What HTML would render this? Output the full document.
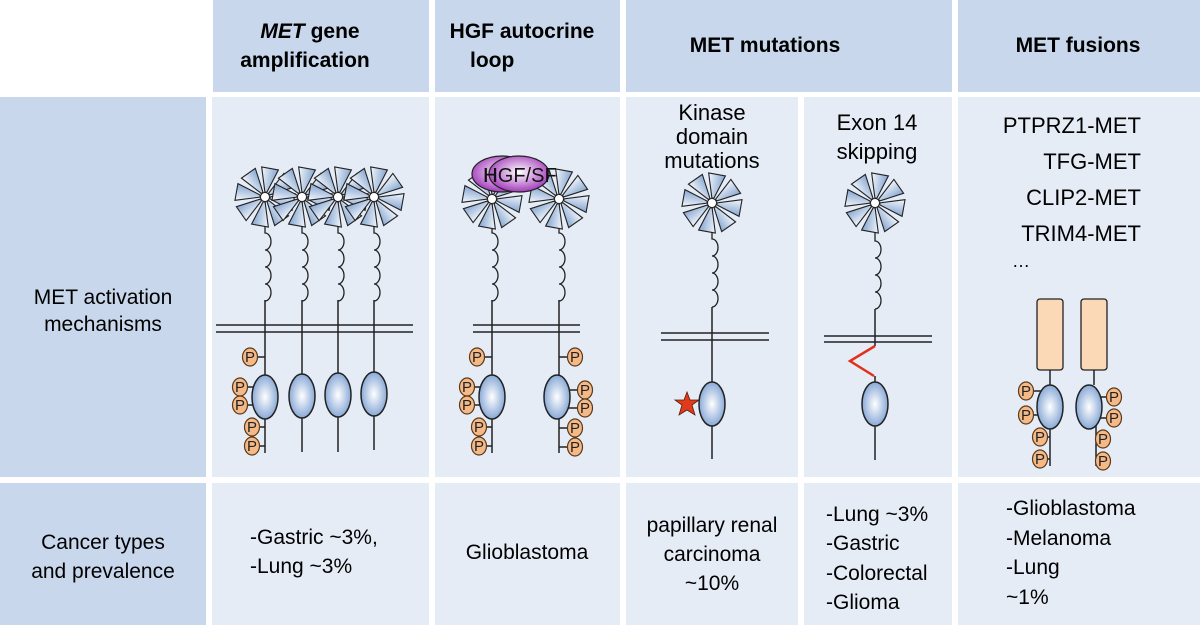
<!DOCTYPE html>
<html><head><meta charset="utf-8"><style>
html,body{margin:0;padding:0;background:#fff}
body{width:1200px;height:627px;overflow:hidden;position:relative;font-family:"Liberation Sans",sans-serif;color:#111}
.c{position:absolute}
.h{background:#c8d7eb}
.b{background:#e5ecf6}
</style></head><body>
<div class="c h" style="left:213px;top:0;width:216px;height:92px"></div>
<div class="c h" style="left:435px;top:0;width:185px;height:92px"></div>
<div class="c h" style="left:626px;top:0;width:326px;height:92px"></div>
<div class="c h" style="left:958px;top:0;width:242px;height:92px"></div>
<div class="c h" style="left:0;top:97px;width:206px;height:380px"></div>
<div class="c h" style="left:0;top:483px;width:206px;height:142px"></div>
<div class="c b" style="left:212px;top:97px;width:217px;height:380px"></div>
<div class="c b" style="left:435px;top:97px;width:185px;height:380px"></div>
<div class="c b" style="left:626px;top:97px;width:172px;height:380px"></div>
<div class="c b" style="left:804px;top:97px;width:148px;height:380px"></div>
<div class="c b" style="left:958px;top:97px;width:242px;height:380px"></div>
<div class="c b" style="left:212px;top:483px;width:217px;height:142px"></div>
<div class="c b" style="left:435px;top:483px;width:185px;height:142px"></div>
<div class="c b" style="left:626px;top:483px;width:172px;height:142px"></div>
<div class="c b" style="left:804px;top:483px;width:148px;height:142px"></div>
<div class="c b" style="left:958px;top:483px;width:242px;height:142px"></div>

<svg class="c" style="left:0;top:0" width="1200" height="627" viewBox="0 0 1200 627" font-family="Liberation Sans, sans-serif">
<defs>
<linearGradient id="bg" x1="0" y1="0" x2="1" y2="0"><stop offset="0" stop-color="#f4f8fd"/><stop offset="1" stop-color="#86a6d0"/></linearGradient>
<radialGradient id="eg" cx="0.5" cy="0.5" r="0.55"><stop offset="0" stop-color="#ffffff"/><stop offset="1" stop-color="#7ea1d3"/></radialGradient>
<radialGradient id="pg" cx="0.5" cy="0.45" r="0.6"><stop offset="0" stop-color="#fff"/><stop offset="1" stop-color="#9b2bb5"/></radialGradient>
<g id="bl"><polygon points="-1,-5 1,-5 8.5,-29 -8.5,-29" fill="url(#bg)" stroke="#222" stroke-width="1.1"/></g>
<g id="pw">
<use href="#bl" transform="rotate(10)"/><use href="#bl" transform="rotate(55)"/><use href="#bl" transform="rotate(100)"/><use href="#bl" transform="rotate(145)"/><use href="#bl" transform="rotate(190)"/><use href="#bl" transform="rotate(235)"/><use href="#bl" transform="rotate(280)"/><use href="#bl" transform="rotate(325)"/>
<circle r="4.5" fill="#fff" stroke="#222" stroke-width="1"/>
</g>
<path id="coil" d="M0,0 l0,8 a6,8.5 0 1 1 0,17 a6,8.5 0 1 1 0,17 a6,8.5 0 1 1 0,17 a6,8.5 0 1 1 0,17" fill="none" stroke="#222" stroke-width="1.3"/>
<ellipse id="kd" rx="13" ry="22" fill="url(#eg)" stroke="#222" stroke-width="1.5"/>
</defs>

<g font-weight="bold" font-size="21" text-anchor="middle">
<text x="310" y="38"><tspan font-style="italic">MET</tspan> gene</text>
<text x="305" y="67">amplification</text>
<text x="522" y="38">HGF autocrine</text>
<text x="470" y="67" text-anchor="start">loop</text>
<text x="765" y="52">MET mutations</text>
<text x="1078" y="52">MET fusions</text>
</g>
<g font-size="21" text-anchor="middle">
<text x="103" y="304">MET activation</text>
<text x="103" y="331">mechanisms</text>
<text x="103" y="549">Cancer types</text>
<text x="103" y="578">and prevalence</text>
<text x="527" y="559">Glioblastoma</text>
<text x="712" y="532">papillary renal</text>
<text x="712" y="561">carcinoma</text>
<text x="712" y="590">~10%</text>
<text x="712" y="120" font-size="22">Kinase</text>
<text x="712" y="144" font-size="22">domain</text>
<text x="712" y="168" font-size="22">mutations</text>
<text x="877" y="130" font-size="22">Exon 14</text>
<text x="877" y="159" font-size="22">skipping</text>
</g>
<g font-size="21">
<text x="250" y="544">-Gastric ~3%,</text>
<text x="250" y="573">-Lung ~3%</text>
<text x="826" y="521">-Lung ~3%</text>
<text x="826" y="550">-Gastric</text>
<text x="826" y="580">-Colorectal</text>
<text x="826" y="609">-Glioma</text>
<text x="1006" y="515">-Glioblastoma</text>
<text x="1006" y="545">-Melanoma</text>
<text x="1006" y="574">-Lung</text>
<text x="1006" y="604">~1%</text>
</g>
<g font-size="22" text-anchor="end">
<text x="1141" y="133">PTPRZ1-MET</text>
<text x="1141" y="169">TFG-MET</text>
<text x="1141" y="205">CLIP2-MET</text>
<text x="1141" y="241">TRIM4-MET</text>
</g>
<text x="1012" y="267" font-size="18">…</text>

<g stroke="#222" stroke-width="1.5" fill="none">
<line x1="216" y1="325" x2="413" y2="325"/><line x1="216" y1="332" x2="413" y2="332"/>
<line x1="265" y1="300" x2="265" y2="453"/><line x1="302" y1="300" x2="302" y2="452"/><line x1="338" y1="300" x2="338" y2="452"/><line x1="374" y1="300" x2="374" y2="450"/>
<line x1="265" y1="197" x2="265" y2="227"/><line x1="302" y1="197" x2="302" y2="227"/><line x1="338" y1="197" x2="338" y2="227"/><line x1="374" y1="197" x2="374" y2="227"/>
<line x1="473" y1="325" x2="580" y2="325"/><line x1="473" y1="332" x2="580" y2="332"/>
<line x1="492" y1="300" x2="492" y2="453"/><line x1="559" y1="300" x2="559" y2="453"/>
<line x1="492" y1="197" x2="492" y2="227"/><line x1="559" y1="197" x2="559" y2="227"/>
<line x1="661" y1="333" x2="769" y2="333"/><line x1="661" y1="340" x2="769" y2="340"/>
<line x1="712" y1="203" x2="712" y2="231"/><line x1="712" y1="307" x2="712" y2="459"/>
<line x1="824" y1="336" x2="932" y2="336"/><line x1="824" y1="342" x2="932" y2="342"/>
<line x1="875" y1="203" x2="875" y2="233"/><line x1="875" y1="309" x2="875" y2="346"/><line x1="875" y1="376" x2="875" y2="460"/>
<line x1="1050" y1="370" x2="1050" y2="466"/><line x1="1094" y1="370" x2="1094" y2="385"/><line x1="1096" y1="400" x2="1096" y2="466"/>
<path d="M257,357h8M248,387h17M248,405h17M259,427h6M259,446h6"/>
<path d="M484,357h8M475,387h17M475,405h17M486,427h6M486,446h6"/>
<path d="M559,357h8M559,390h18M559,408h18M559,428h8M559,447h8"/>
<path d="M1033,391h17M1033,415h17M1045,437h5M1045,459h5M1096,397h10M1096,418h10M1096,439h2M1096,461h2"/>
</g>
<g>
<use href="#coil" x="265" y="225"/><use href="#coil" x="302" y="225"/><use href="#coil" x="338" y="225"/><use href="#coil" x="374" y="225"/>
<use href="#coil" x="492" y="225"/><use href="#coil" x="559" y="225"/>
<use href="#coil" x="712" y="231"/><use href="#coil" x="875" y="233"/>
</g>
<use href="#pw" x="265" y="197"/><use href="#pw" x="302" y="197"/><use href="#pw" x="338" y="197"/><use href="#pw" x="374" y="197"/>
<use href="#pw" x="492" y="199"/><use href="#pw" x="559" y="199"/>
<use href="#pw" x="712" y="203"/><use href="#pw" x="875" y="203"/>
<ellipse cx="502" cy="174" rx="30" ry="18" fill="url(#pg)" stroke="#222" stroke-width="1.2"/>
<ellipse cx="519" cy="174" rx="30" ry="18" fill="url(#pg)" stroke="#222" stroke-width="1.2"/>
<text x="483" y="182" font-size="20" fill="#111">H</text>
<text x="520" y="182" font-size="20" text-anchor="middle" fill="#111">HGF/SF</text>
<use href="#kd" x="265" y="397"/><use href="#kd" x="302" y="396"/><use href="#kd" x="338" y="395"/><use href="#kd" x="374" y="394"/>
<use href="#kd" x="492" y="397"/><use href="#kd" x="557" y="397"/>
<use href="#kd" x="712" y="404"/><use href="#kd" x="875" y="404"/>
<use href="#kd" x="1050" y="407"/><use href="#kd" x="1089" y="407"/>
<polygon points="687,392 690,400 699,400 692,405 695,415 687,410 679,415 682,405 675,400 684,400" fill="#e03c1c" stroke="#5a1a0a" stroke-width="0.8"/>
<polyline points="875,346 850,361 874,376" fill="none" stroke="#e3301c" stroke-width="2.5"/>
<rect x="1037" y="299" width="26" height="71" rx="3" fill="#fbd9b6" stroke="#222" stroke-width="1.3"/>
<rect x="1081" y="299" width="26" height="71" rx="3" fill="#fbd9b6" stroke="#222" stroke-width="1.3"/>
<g fill="#f5b987" stroke="#5a3a1a" stroke-width="1.2">
<ellipse cx="250" cy="357" rx="7.5" ry="9"/><ellipse cx="240" cy="387" rx="7.5" ry="9"/><ellipse cx="240" cy="405" rx="7.5" ry="9"/><ellipse cx="252" cy="427" rx="7.5" ry="9"/><ellipse cx="252" cy="446" rx="7.5" ry="9"/>
<ellipse cx="477" cy="357" rx="7.5" ry="9"/><ellipse cx="467" cy="387" rx="7.5" ry="9"/><ellipse cx="467" cy="405" rx="7.5" ry="9"/><ellipse cx="479" cy="427" rx="7.5" ry="9"/><ellipse cx="479" cy="446" rx="7.5" ry="9"/>
<ellipse cx="575" cy="357" rx="7.5" ry="9"/><ellipse cx="585" cy="390" rx="7.5" ry="9"/><ellipse cx="585" cy="408" rx="7.5" ry="9"/><ellipse cx="575" cy="428" rx="7.5" ry="9"/><ellipse cx="575" cy="447" rx="7.5" ry="9"/>
<ellipse cx="1026" cy="391" rx="7.5" ry="9"/><ellipse cx="1026" cy="415" rx="7.5" ry="9"/><ellipse cx="1040" cy="437" rx="7.5" ry="9"/><ellipse cx="1040" cy="459" rx="7.5" ry="9"/>
<ellipse cx="1114" cy="397" rx="7.5" ry="9"/><ellipse cx="1114" cy="418" rx="7.5" ry="9"/><ellipse cx="1103" cy="439" rx="7.5" ry="9"/><ellipse cx="1103" cy="461" rx="7.5" ry="9"/>
</g>
<g font-size="15" text-anchor="middle" fill="#222">
<text x="250" y="362">P</text><text x="240" y="392">P</text><text x="240" y="410">P</text><text x="252" y="432">P</text><text x="252" y="451">P</text>
<text x="477" y="362">P</text><text x="467" y="392">P</text><text x="467" y="410">P</text><text x="479" y="432">P</text><text x="479" y="451">P</text>
<text x="575" y="362">P</text><text x="585" y="395">P</text><text x="585" y="413">P</text><text x="575" y="433">P</text><text x="575" y="452">P</text>
<text x="1026" y="396">P</text><text x="1026" y="420">P</text><text x="1040" y="442">P</text><text x="1040" y="464">P</text>
<text x="1114" y="402">P</text><text x="1114" y="423">P</text><text x="1103" y="444">P</text><text x="1103" y="466">P</text>
</g>
</svg>
</body></html>
